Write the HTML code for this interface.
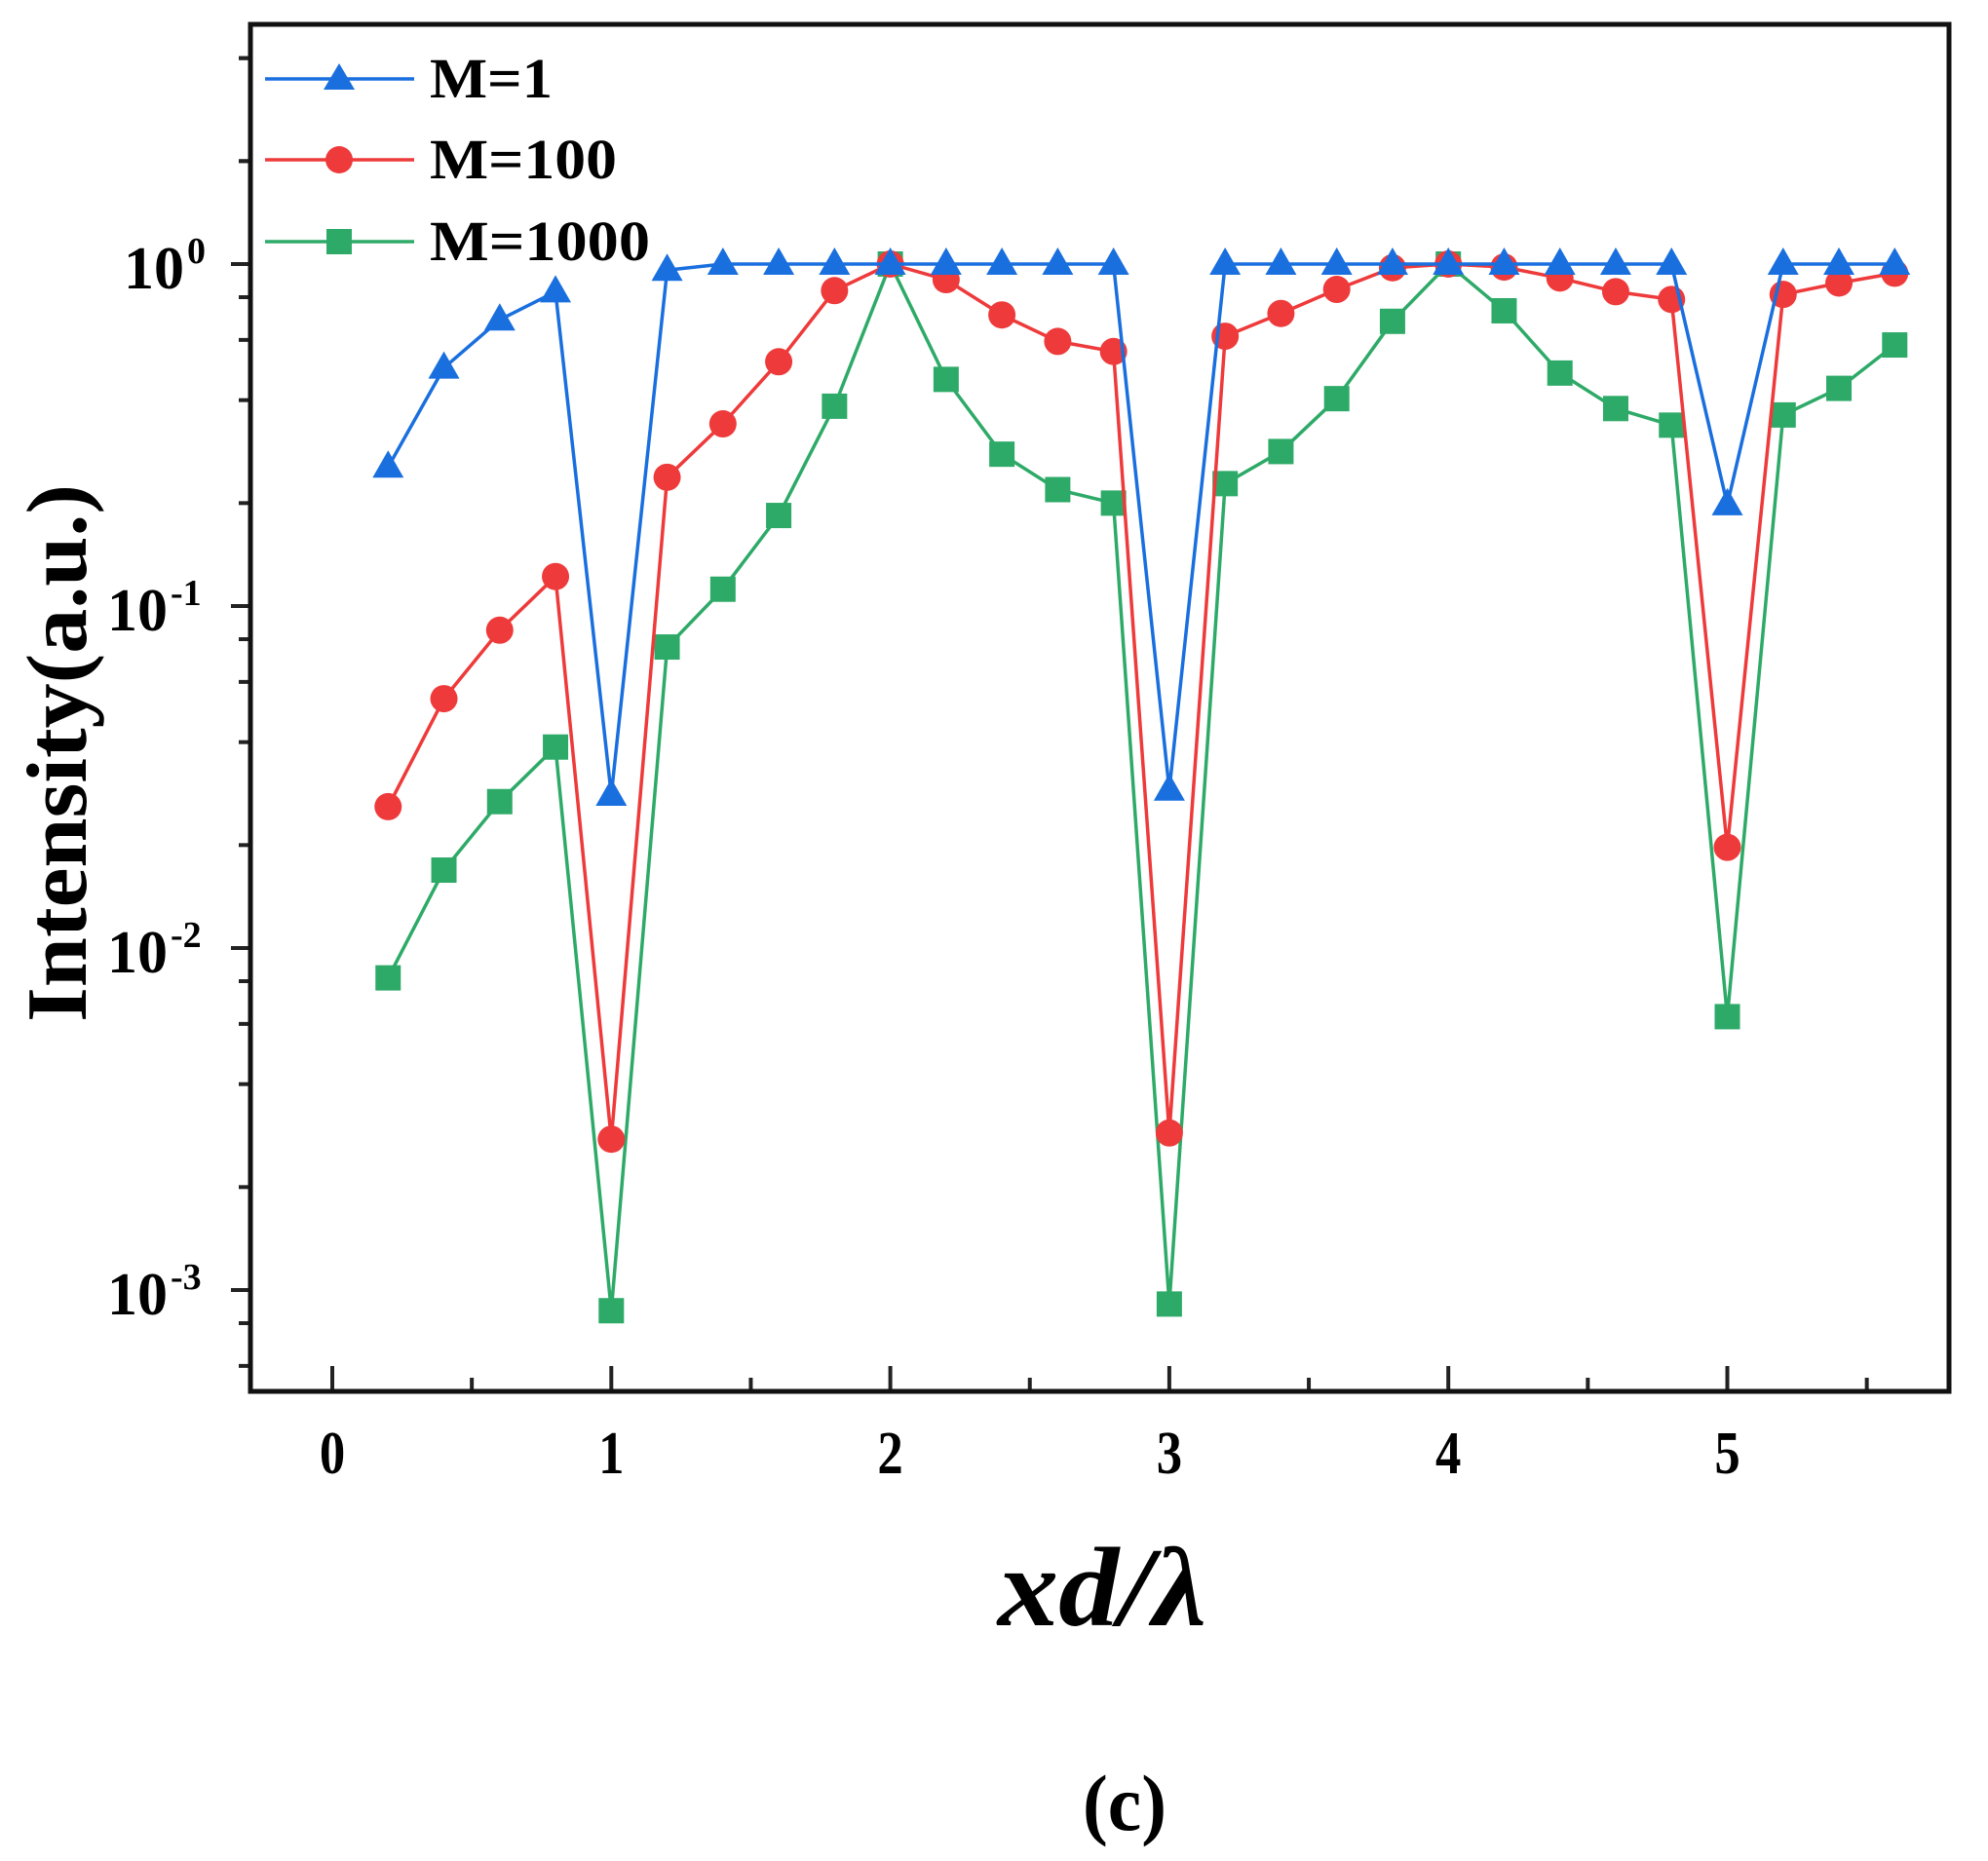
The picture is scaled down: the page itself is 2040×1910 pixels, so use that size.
<!DOCTYPE html>
<html><head><meta charset="utf-8"><style>
html,body{margin:0;padding:0;background:#fff;}
svg{display:block;}
text{font-family:"Liberation Serif",serif;font-weight:bold;fill:#000;}
</style></head><body>
<svg id="s" width="2040" height="1910" viewBox="0 0 2040 1910" xmlns="http://www.w3.org/2000/svg">
<rect width="2040" height="1910" fill="#fff"/>
<g id="ax"></g>
<g id="data"></g>
<rect x="257" y="25" width="1743" height="1403" fill="none" stroke="#111" stroke-width="5"/>
<!-- legend -->
<line x1="272" y1="81" x2="425" y2="81" stroke="#1a6fdf" stroke-width="3.5"/>
<polygon points="348,65 332,92 364,92" fill="#1a6fdf"/>
<text x="441" y="100" font-size="58" textLength="126" lengthAdjust="spacingAndGlyphs">M=1</text>
<line x1="272" y1="164" x2="425" y2="164" stroke="#ee3a3a" stroke-width="3.5"/>
<circle cx="348" cy="164" r="14" fill="#ee3a3a"/>
<text x="441" y="183" font-size="58" textLength="192" lengthAdjust="spacingAndGlyphs">M=100</text>
<line x1="272" y1="248" x2="425" y2="248" stroke="#2eaa68" stroke-width="3.5"/>
<rect x="335" y="235" width="26" height="26" fill="#2eaa68"/>
<text x="441" y="267" font-size="58" textLength="226" lengthAdjust="spacingAndGlyphs">M=1000</text>
<!-- y tick labels -->
<text x="189" y="296" font-size="62" text-anchor="end">10</text><text x="192" y="270" font-size="38">0</text>
<text x="172" y="647" font-size="62" text-anchor="end">10</text><text x="175" y="621" font-size="38">-1</text>
<text x="172" y="998" font-size="62" text-anchor="end">10</text><text x="175" y="972" font-size="38">-2</text>
<text x="172" y="1349" font-size="62" text-anchor="end">10</text><text x="175" y="1323" font-size="38">-3</text>
<!-- y label -->
<text transform="translate(88,773) rotate(-90)" x="0" y="0" font-size="88" text-anchor="middle" textLength="552" lengthAdjust="spacingAndGlyphs">Intensity(a.u.)</text>
<!-- x label -->
<text x="1024" y="1668" font-size="115" font-style="italic" textLength="214" lengthAdjust="spacingAndGlyphs">xd/λ</text>
<text x="1111" y="1878" font-size="82" font-weight="normal" style="font-weight:bold" textLength="86" lengthAdjust="spacingAndGlyphs">(c)</text>
</svg>
<script>
var NS="http://www.w3.org/2000/svg";
var X0=341,U=286.3,Y0=271,D=351;
function px(x){return X0+U*x;}
function py(v){return Y0-D*Math.log10(v);}
function el(tag,attrs,parent){var e=document.createElementNS(NS,tag);for(var k in attrs)e.setAttribute(k,attrs[k]);parent.appendChild(e);return e;}
var ax=document.getElementById('ax');
// x ticks (inward)
for(var i=0;i<=11;i++){var x=px(i*0.5);var len=(i%2==0)?26:14;
 el('line',{x1:x,y1:1428,x2:x,y2:1428-len,stroke:'#222','stroke-width':4},ax);
 if(i%2==0){var t=el('text',{x:x,y:1512,'font-size':62,'text-anchor':'middle',transform:'translate('+x+',0) scale(0.85,1) translate('+(-x)+',0)'},ax);t.textContent=(i/2);}
}
// y ticks (outward)
for(var d=-4;d<=0;d++){
 [1,2,4,6,8].forEach(function(m){var v=m*Math.pow(10,d);var y=py(v);if(y>1426||y<27)return;
  var len=(m==1)?20:12;el('line',{x1:257,y1:y,x2:257-len,y2:y,stroke:'#222','stroke-width':4},ax);});
}
[2,4].forEach(function(m){var y=py(m);el('line',{x1:257,y1:y,x2:245,y2:y,stroke:'#222','stroke-width':4},ax);});
var xs=[];for(var i=1;i<=28;i++)xs.push(i*0.2);
var m1=[0.255,0.497,0.687,0.83,0.028,0.96,1,1,1,1,1,1,1,1,0.029,1,1,1,1,1,1,1,1,1,0.198,1,1,1];
var m100=[0.0259,0.0536,0.085,0.122,0.00276,0.238,0.341,0.518,0.836,1,0.9,0.71,0.594,0.555,0.00288,0.615,0.717,0.843,0.975,1,0.98,0.91,0.83,0.788,0.0197,0.815,0.88,0.94];
var m1000=[0.00818,0.0169,0.0268,0.0387,0.00087,0.0759,0.112,0.184,0.384,1,0.46,0.278,0.219,0.2,0.00091,0.228,0.283,0.404,0.68,1,0.73,0.48,0.378,0.338,0.0063,0.362,0.433,0.58];
var g=document.getElementById('data');
function series(vals,col,mk){
 var pts=vals.map(function(v,i){return [px(xs[i]),py(v)];});
 el('polyline',{points:pts.map(function(p){return p[0].toFixed(1)+','+p[1].toFixed(1)}).join(' '),fill:'none',stroke:col,'stroke-width':3.5,'stroke-linejoin':'miter'},g);
 pts.forEach(function(p){
  if(mk=='t')el('polygon',{points:(p[0])+','+(p[1]-17)+' '+(p[0]-16)+','+(p[1]+11)+' '+(p[0]+16)+','+(p[1]+11),fill:col},g);
  else if(mk=='c')el('circle',{cx:p[0],cy:p[1],r:14,fill:col},g);
  else el('rect',{x:p[0]-13,y:p[1]-13,width:26,height:26,fill:col},g);
 });
}
series(m1000,'#2eaa68','s');
series(m100,'#ee3a3a','c');
series(m1,'#1a6fdf','t');
</script>
</body></html>
